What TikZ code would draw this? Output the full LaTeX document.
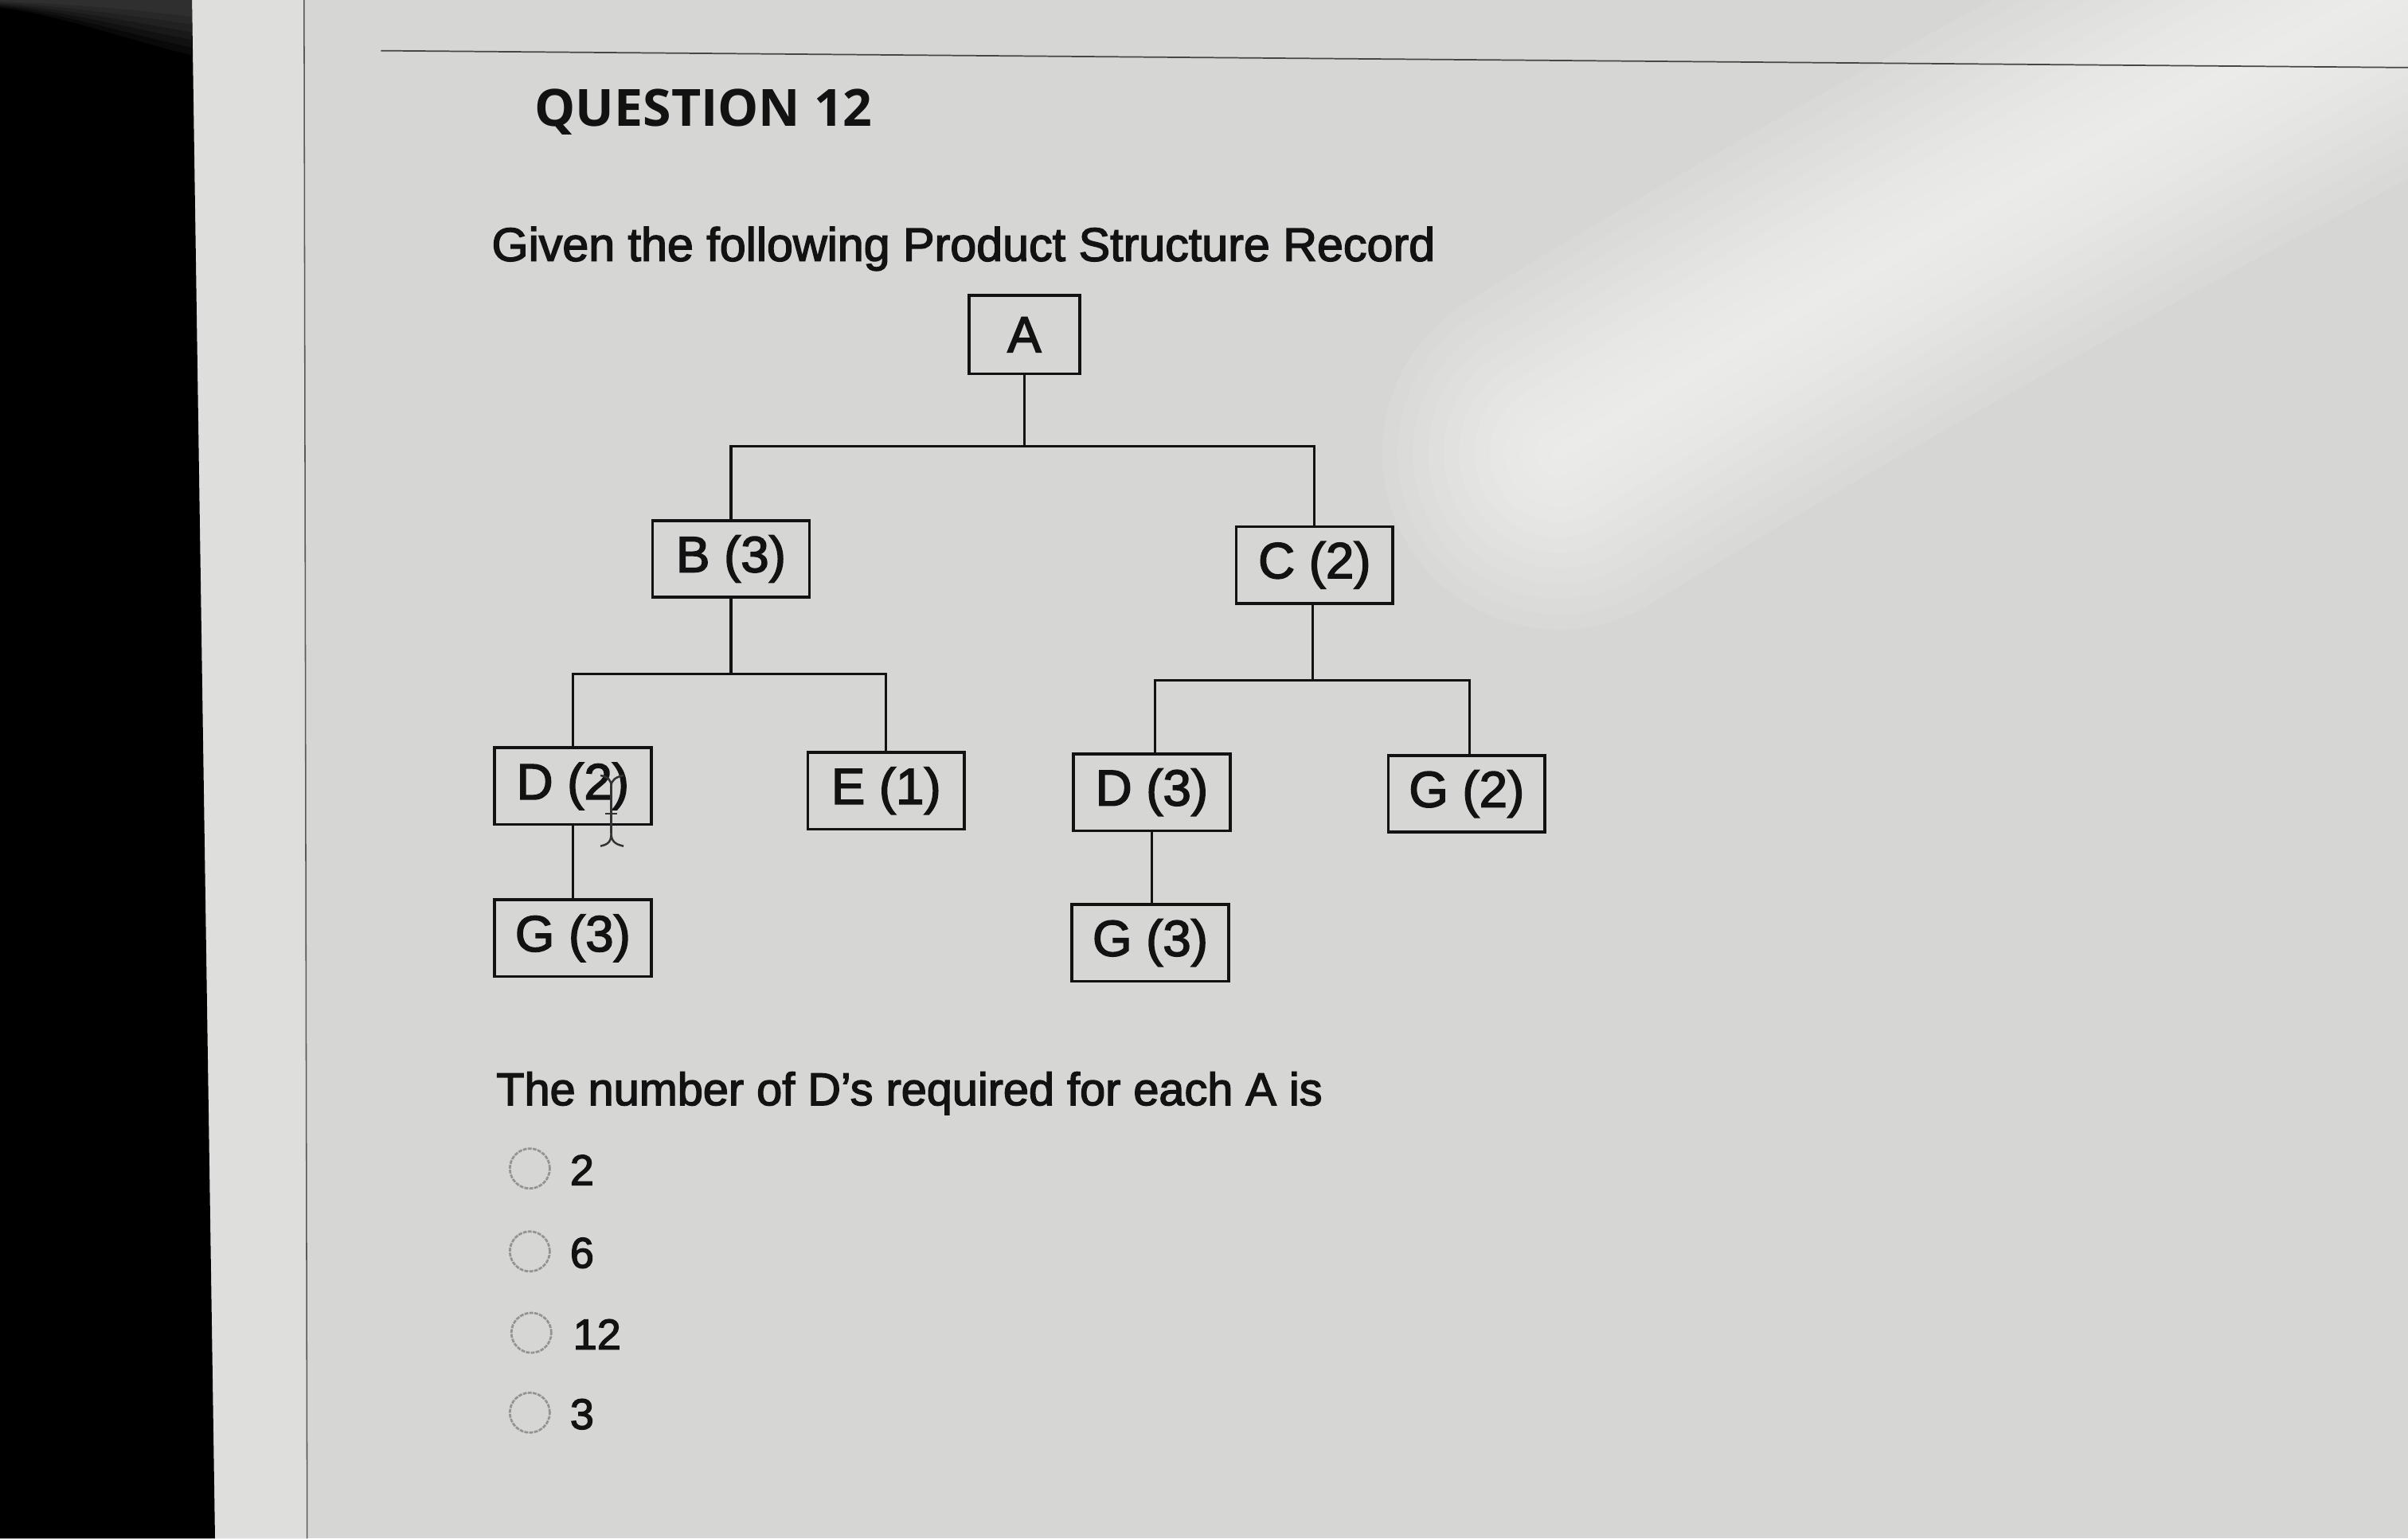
\documentclass[tikz,border=0pt]{standalone}
\usepackage{fontspec}
\defaultfontfeatures{Ligatures=TeX}
\setmainfont{Liberation Sans}
\newfontfamily\bodyfont{Liberation Sans}[FakeBold=2.5]
\newfontfamily\qfont{Open Sans}
\usetikzlibrary{calc}
\definecolor{pagebg}{HTML}{D6D6D4}
\definecolor{stripbg}{HTML}{DEDEDC}
\definecolor{ink}{HTML}{121212}
\tikzset{
  part/.style={draw=ink, line width=1.9pt, fill=pagebg, minimum width=102pt, minimum height=50pt,
    inner sep=0pt, font=\bodyfont\fontsize{33}{36}\selectfont, text=ink},
  link/.style={draw=ink, line width=1.6pt},
  radio/.style={draw=gray!85, line width=1.4pt, dash pattern=on 2.5pt off 0.7pt},
  opt/.style={anchor=west, inner sep=0pt, font=\bodyfont\fontsize{28}{30}\selectfont, text=ink},
  txt/.style={anchor=west, inner sep=0pt, text=ink},
}
\begin{document}
\begin{tikzpicture}[x=1pt, y=-1pt]
\useasboundingbox (0,0) rectangle (1568,1002);
% backgrounds
\fill[pagebg] (0,0) rectangle (1568,1002);
\fill[stripbg] (125,0) -- (198,0) -- (200,1002) -- (140,1002) -- cycle;
\fill[black] (0,0) -- (125,0) -- (140,1002) -- (0,1002) -- cycle;
\foreach \k in {0,...,5}{
  \fill[white, opacity=0.035] (0,0) -- (125,0) -- (125,{36-5*\k}) .. controls (80,{25-4*\k}) and (40,{10-1.5*\k}) .. (0,{5-0.8*\k}) -- cycle;
}
\draw[gray!70!black, line width=0.8pt] (198,0) -- (200,1002);
% soft glare band
\begin{scope}
\clip (200,0) rectangle (1568,1002);
\foreach \w in {230,210,...,10}{
  \draw[white, opacity=0.08, line width=\w pt, line cap=round] (1015,295) .. controls (1150,212) and (1330,108) .. (1640,-50);
}
\end{scope}
\draw[gray!55!black, line width=0.9pt] (248,33) -- (1568,44);

% texts
\node[txt] (title) at (348,73) {\qfont\bfseries\fontsize{33.4}{35}\selectfont QUESTION 12};
\node[txt] (given) at (320,162) {\bodyfont\fontsize{30.7}{32}\selectfont Given the following Product Structure Record};

% parts
\node[part, minimum width=72pt, minimum height=51pt] (nA) at (667,218) {A};
\node[part] (nB) at (476,364) {B (3)};
\node[part] (nC) at (856,368) {C (2)};
\node[part] (nD1) at (373,512) {D (2)};
\node[part] (nE) at (577,515) {E (1)};
\node[part] (nD2) at (750,516) {D (3)};
\node[part] (nG2) at (955,517) {G (2)};
\node[part] (nG3a) at (373,611) {G (3)};
\node[part] (nG3b) at (749,614) {G (3)};

% connectors
\draw[link] (nA.south) -- ++(0,46) coordinate (jA);
\draw[link] (nB.north) |- (jA) -| (nC.north);
\draw[link] (nB.south) -- ++(0,49) coordinate (jB);
\draw[link] (nD1.north) |- (jB) -| (nE.north);
\draw[link] ($(nC.south)+(-1,0)$) -- ++(0,49) coordinate (jC);
\draw[link] ($(nD2.north)+(2,0)$) |- (jC) -| ($(nG2.north)+(2,0)$);
\draw[link] (nD1.south) -- (nG3a.north);
\draw[link] (nD2.south) -- (nD2.south |- nG3b.north);

% I-beam cursor
\draw[black!80, line width=1.3pt] (391,505) .. controls (396,506) and (398,508) .. (398,512) .. controls (398,508) and (401,506) .. (406,505);
\draw[black!80, line width=1.3pt] (398,512) -- (398,543);
\draw[black!80, line width=1.3pt] (394,530) -- (402,530);
\draw[black!80, line width=1.3pt] (391,551) .. controls (396,550) and (398,548) .. (398,543) .. controls (398,548) and (401,550) .. (406,551);

% question
\node[txt] (q) at (323,712) {\bodyfont\fontsize{29.9}{31}\selectfont The number of D’s required for each A is};
\node[radio, circle, minimum size=26pt, inner sep=0pt] (r1) at (345,761) {};
\node[radio, circle, minimum size=26pt, inner sep=0pt] (r2) at (345,815) {};
\node[radio, circle, minimum size=26pt, inner sep=0pt] (r3) at (346,868) {};
\node[radio, circle, minimum size=26pt, inner sep=0pt] (r4) at (345,920) {};
\node[opt] (o1) at (371,762) {2};
\node[opt] (o2) at (371,816) {6};
\node[opt] (o3) at (373,869) {12};
\node[opt] (o4) at (371,921) {3};
\end{tikzpicture}
\end{document}
